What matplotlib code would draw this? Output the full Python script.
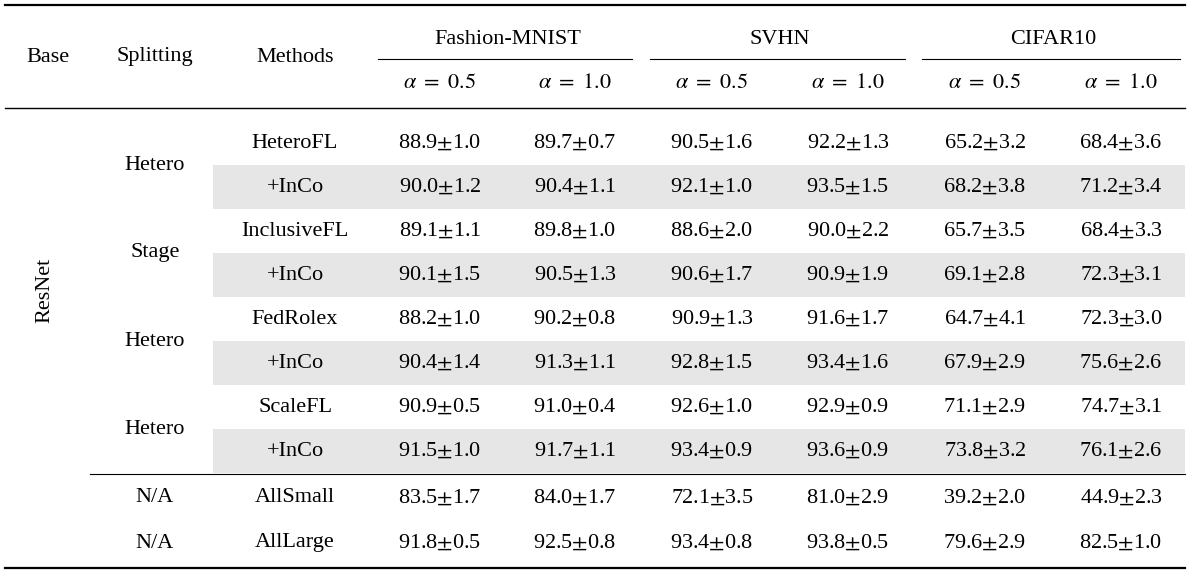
import matplotlib
matplotlib.use('Agg')
import matplotlib.pyplot as plt
from matplotlib.patches import Rectangle
from matplotlib.lines import Line2D

plt.rcParams['font.family'] = ['Liberation Serif', 'DejaVu Serif']
plt.rcParams['mathtext.fontset'] = 'stix'

datasets = ['Fashion-MNIST', 'SVHN', 'CIFAR10']
alphas = [r'$\alpha\ =\ 0.5$', r'$\alpha\ =\ 1.0$']
splits = ['Hetero', 'Stage', 'Hetero', 'Hetero']
methods = ['HeteroFL', '+InCo', 'InclusiveFL', '+InCo', 'FedRolex', '+InCo',
           'ScaleFL', '+InCo', 'AllSmall', 'AllLarge']
values = [
    ['88.9±1.0', '89.7±0.7', '90.5±1.6', '92.2±1.3', '65.2±3.2', '68.4±3.6'],
    ['90.0±1.2', '90.4±1.1', '92.1±1.0', '93.5±1.5', '68.2±3.8', '71.2±3.4'],
    ['89.1±1.1', '89.8±1.0', '88.6±2.0', '90.0±2.2', '65.7±3.5', '68.4±3.3'],
    ['90.1±1.5', '90.5±1.3', '90.6±1.7', '90.9±1.9', '69.1±2.8', '72.3±3.1'],
    ['88.2±1.0', '90.2±0.8', '90.9±1.3', '91.6±1.7', '64.7±4.1', '72.3±3.0'],
    ['90.4±1.4', '91.3±1.1', '92.8±1.5', '93.4±1.6', '67.9±2.9', '75.6±2.6'],
    ['90.9±0.5', '91.0±0.4', '92.6±1.0', '92.9±0.9', '71.1±2.9', '74.7±3.1'],
    ['91.5±1.0', '91.7±1.1', '93.4±0.9', '93.6±0.9', '73.8±3.2', '76.1±2.6'],
    ['83.5±1.7', '84.0±1.7', '72.1±3.5', '81.0±2.9', '39.2±2.0', '44.9±2.3'],
    ['91.8±0.5', '92.5±0.8', '93.4±0.8', '93.8±0.5', '79.6±2.9', '82.5±1.0'],
]

W, H = 1190, 575
fig = plt.figure(figsize=(W / 100, H / 100), dpi=100)
ax = fig.add_axes([0, 0, 1, 1])
ax.set_xlim(0, W)
ax.set_ylim(H, 0)
ax.axis('off')

fs = 16
col_x = [440, 575, 712, 848, 985, 1121]
row_y = [143, 187, 231, 275, 319, 363, 407, 451, 498, 543]

# shaded +InCo rows
for i, m in enumerate(methods):
    if m == '+InCo':
        ax.add_patch(Rectangle((213, row_y[i] - 22), 1185 - 213, 44,
                               color='#e6e6e6', lw=0, zorder=0))

def hline(y, x0, x1, lw):
    ax.add_line(Line2D([x0, x1], [y, y], color='black', lw=lw))

hline(5, 5, 1185, 1.6)
hline(108, 5, 1185, 1.0)
hline(568, 5, 1185, 1.6)
hline(474, 90, 1185, 0.8)
for x0, x1 in [(378, 632), (650, 905), (922, 1180)]:
    hline(59, x0, x1, 0.8)

for x, s in [(48, 'Base'), (155, 'Splitting'), (295, 'Methods')]:
    ax.text(x, 57, s, ha='center', va='center', fontsize=fs)
for k, d in enumerate(datasets):
    ax.text((col_x[2 * k] + col_x[2 * k + 1]) / 2, 39, d, ha='center', va='center', fontsize=fs)
    for j in range(2):
        ax.text(col_x[2 * k + j], 84, alphas[j], ha='center', va='center', fontsize=fs)

ax.text(45, 290, 'ResNet', ha='center', va='center', rotation=90, fontsize=fs)
for k, s in enumerate(splits):
    ax.text(155, (row_y[2 * k] + row_y[2 * k + 1]) / 2, s, ha='center', va='center', fontsize=fs)
ax.text(155, row_y[8], 'N/A', ha='center', va='center', fontsize=fs)
ax.text(155, row_y[9], 'N/A', ha='center', va='center', fontsize=fs)

for i, m in enumerate(methods):
    ax.text(295, row_y[i], m, ha='center', va='center', fontsize=fs)
    for j, v in enumerate(values[i]):
        ax.text(col_x[j], row_y[i], v.replace('±', r'$\pm$'), ha='center', va='center', fontsize=fs)

fig.savefig('out.png', dpi=100)
